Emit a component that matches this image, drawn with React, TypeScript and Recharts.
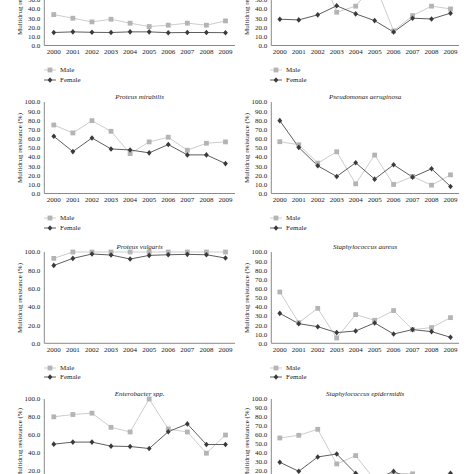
import React from 'react';
import { LineChart, Line, XAxis, YAxis } from 'recharts';

const years = ['2000', '2001', '2002', '2003', '2004', '2005', '2006', '2007', '2008', '2009'];

const ticks10 = [0, 10, 20, 30, 40, 50, 60, 70, 80, 90, 100];
const ticks20 = [0, 20, 40, 60, 80, 100];

// row 1 (titles cut off)
const topLeftMale = [33.8, 29.8, 25.8, 28.7, 24.4, 20.7, 22.2, 24.4, 22.2, 26.9];
const topLeftFemale = [14.2, 14.9, 14.4, 14.2, 14.9, 14.9, 14.0, 14.2, 14.2, 14.0];
const topRightMale = [65, 75, 88, 36.4, 43, 68, 16, 32.7, 43, 40];
const topRightFemale = [28.7, 28, 33.5, 43.4, 34.6, 27.2, 14.7, 29.8, 29, 35.3];

const mirabilisMale = [74.9, 66.2, 79.6, 68, 43.6, 56.4, 61.5, 47.3, 54.9, 56.4];
const mirabilisFemale = [62.5, 45.8, 60.7, 48.7, 47.6, 44.4, 53.5, 42.2, 42.2, 32.7];

const aeruginosaMale = [56.6, 53.3, 33.2, 45.6, 10.6, 42, 9.9, 18.6, 9.1, 20.4];
const aeruginosaFemale = [79.6, 50.4, 30.3, 18.6, 33.6, 15.7, 31.4, 17.9, 27, 7.7];

const vulgarisMale = [93, 100, 100, 100, 100, 100, 100, 100, 100, 100];
const vulgarisFemale = [85.3, 93, 97.8, 96.7, 92.3, 96.3, 97, 97.4, 97, 93.4];

const aureusMale = [56.2, 22.6, 38.3, 5.8, 31.4, 25.2, 35.8, 15, 17.2, 28.1];
const aureusFemale = [32.8, 21.5, 18.2, 11.7, 13.5, 22.3, 10.2, 15, 12.8, 6.6];

const enterobacterMale = [80.1, 82.7, 84.2, 68.4, 63.2, 100, 66.5, 63.2, 39.5, 59.8];
const enterobacterFemale = [49.6, 51.9, 51.9, 47.4, 47, 44.7, 63.5, 72.2, 49.2, 49.2];

const epidermidisMale = [56.5, 59.5, 66.2, 27.5, 36.8, 10, 17, 16.5, 10, 12];
const epidermidisFemale = [29.4, 19.3, 35.3, 38.6, 17, 10, 19.2, 10, 10, 17];

const titles = [
  '', '',
  'Proteus mirabilis', 'Pseudomonas aeruginosa',
  'Proteus vulgaris', 'Staphylococcus aureus',
  'Enterobacter spp.', 'Staphylococcus epidermidis',
];

const serif = '"Liberation Serif", "DejaVu Serif", serif';
const maleLine = '#cdcdcd';
const maleDot = '#b4b4b4';
const femaleLine = '#5e5e5e';
const femaleDot = '#3a3a3a';

const MaleDot = (p: any) => (
  <rect key={`m${p.index}`} x={p.cx - 2.4} y={p.cy - 2.4} width={4.8} height={4.8} fill={maleDot} />
);
const FemaleDot = (p: any) => (
  <path
    key={`f${p.index}`}
    d={`M${p.cx},${p.cy - 2.8} L${p.cx + 2.4},${p.cy} L${p.cx},${p.cy + 2.8} L${p.cx - 2.4},${p.cy} Z`}
    fill={femaleDot}
  />
);

type PanelProps = {
  side: 'left' | 'right';
  plotTop: number;
  plotH: number;
  title: string;
  male: number[];
  female: number[];
  yTicks: number[];
};

const Panel = ({ side, plotTop, plotH, title, male, female, yTicks }: PanelProps) => {
  const data = years.map((year, i) => ({ year, Male: male[i], Female: female[i] }));
  const panelX = side === 'left' ? 0 : 237;
  const plotL = side === 'left' ? 44.3 : 34.3;
  const plotR = side === 'left' ? 235 : 222;
  const pad = side === 'left' ? 9.5 : 8.5;
  const topM = 30;
  const axisW = 30;
  const chartH = topM + plotH + 20;
  const plotBottom = plotTop + plotH;
  const labelX = side === 'left' ? 20 : 10;
  const legendX = side === 'left' ? 44 : 33;
  const textStyle = { fontFamily: serif, fontSize: 7, color: '#222' };

  return (
    <div style={{ position: 'absolute', left: panelX, top: plotTop - topM, width: 237, height: chartH + 50 }}>
      <LineChart
        width={237}
        height={chartH}
        data={data}
        margin={{ top: topM, right: 237 - plotR, bottom: 0, left: plotL - axisW }}
      >
        <XAxis
          dataKey="year"
          height={20}
          tickLine={false}
          tickSize={0}
          tickMargin={3.5}
          interval={0}
          padding={{ left: pad, right: pad }}
          stroke="#8a8a8a"
          tick={{ fontSize: 7, fill: '#222', fontFamily: serif }}
        />
        <YAxis
          width={axisW}
          domain={[0, 100]}
          ticks={yTicks}
          interval={0}
          tickLine={false}
          tickSize={0}
          tickMargin={4}
          stroke="#8a8a8a"
          tickFormatter={(v: number) => v.toFixed(1)}
          tick={{ fontSize: 7, fill: '#222', fontFamily: serif }}
        />
        <Line
          dataKey="Male"
          stroke={maleLine}
          strokeWidth={1}
          dot={MaleDot}
          activeDot={false}
          isAnimationActive={false}
        />
        <Line
          dataKey="Female"
          stroke={femaleLine}
          strokeWidth={1}
          dot={FemaleDot}
          activeDot={false}
          isAnimationActive={false}
        />
      </LineChart>

      {title && (
        <div
          style={{
            ...textStyle,
            fontStyle: 'italic',
            position: 'absolute',
            left: plotL,
            width: plotR - plotL,
            top: topM - 9,
            lineHeight: '9px',
            textAlign: 'center',
            whiteSpace: 'nowrap',
          }}
        >
          {title}
        </div>
      )}

      <div
        style={{
          ...textStyle,
          position: 'absolute',
          left: labelX - 60,
          top: topM + plotH / 2 - 5,
          width: 120,
          height: 10,
          lineHeight: '10px',
          textAlign: 'center',
          whiteSpace: 'nowrap',
          transform: 'rotate(-90deg)',
        }}
      >
        Multidrug resistance (%)
      </div>

      {[
        { name: 'Male', line: maleLine, dot: maleDot, dy: 24.5, square: true },
        { name: 'Female', line: femaleLine, dot: femaleDot, dy: 34, square: false },
      ].map((item) => (
        <div
          key={item.name}
          style={{
            ...textStyle,
            position: 'absolute',
            left: legendX,
            top: plotBottom - plotTop + topM + item.dy - 5,
            height: 10,
            lineHeight: '10px',
            display: 'flex',
            alignItems: 'center',
            whiteSpace: 'nowrap',
          }}
        >
          <svg width={12} height={10} style={{ marginRight: 4 }}>
            <line x1={0} y1={5} x2={12} y2={5} stroke={item.line} strokeWidth={1} />
            {item.square ? (
              <rect x={3.6} y={2.6} width={4.8} height={4.8} fill={item.dot} />
            ) : (
              <path d="M6,2.2 L8.4,5 L6,7.8 L3.6,5 Z" fill={item.dot} />
            )}
          </svg>
          {item.name}
        </div>
      ))}
    </div>
  );
};

const App = () => {
  const rows = [
    { plotTop: -45.8, plotH: 91.5 },
    { plotTop: 102.3, plotH: 91.5 },
    { plotTop: 252, plotH: 91.3 },
    { plotTop: 398.5, plotH: 89.6 },
  ];
  const panels = [
    { male: topLeftMale, female: topLeftFemale, yTicks: ticks10 },
    { male: topRightMale, female: topRightFemale, yTicks: ticks10 },
    { male: mirabilisMale, female: mirabilisFemale, yTicks: ticks10 },
    { male: aeruginosaMale, female: aeruginosaFemale, yTicks: ticks10 },
    { male: vulgarisMale, female: vulgarisFemale, yTicks: ticks20 },
    { male: aureusMale, female: aureusFemale, yTicks: ticks10 },
    { male: enterobacterMale, female: enterobacterFemale, yTicks: ticks20 },
    { male: epidermidisMale, female: epidermidisFemale, yTicks: ticks10 },
  ];

  return (
    <div
      style={{
        position: 'absolute',
        left: 0,
        top: 0,
        width: 474,
        height: 474,
        overflow: 'hidden',
        background: '#fff',
      }}
    >
      {panels.map((p, i) => {
        const row = rows[Math.floor(i / 2)];
        return (
          <Panel
            key={i}
            side={i % 2 === 0 ? 'left' : 'right'}
            plotTop={row.plotTop}
            plotH={row.plotH}
            title={titles[i]}
            male={p.male}
            female={p.female}
            yTicks={p.yTicks}
          />
        );
      })}
    </div>
  );
};

export default App;
